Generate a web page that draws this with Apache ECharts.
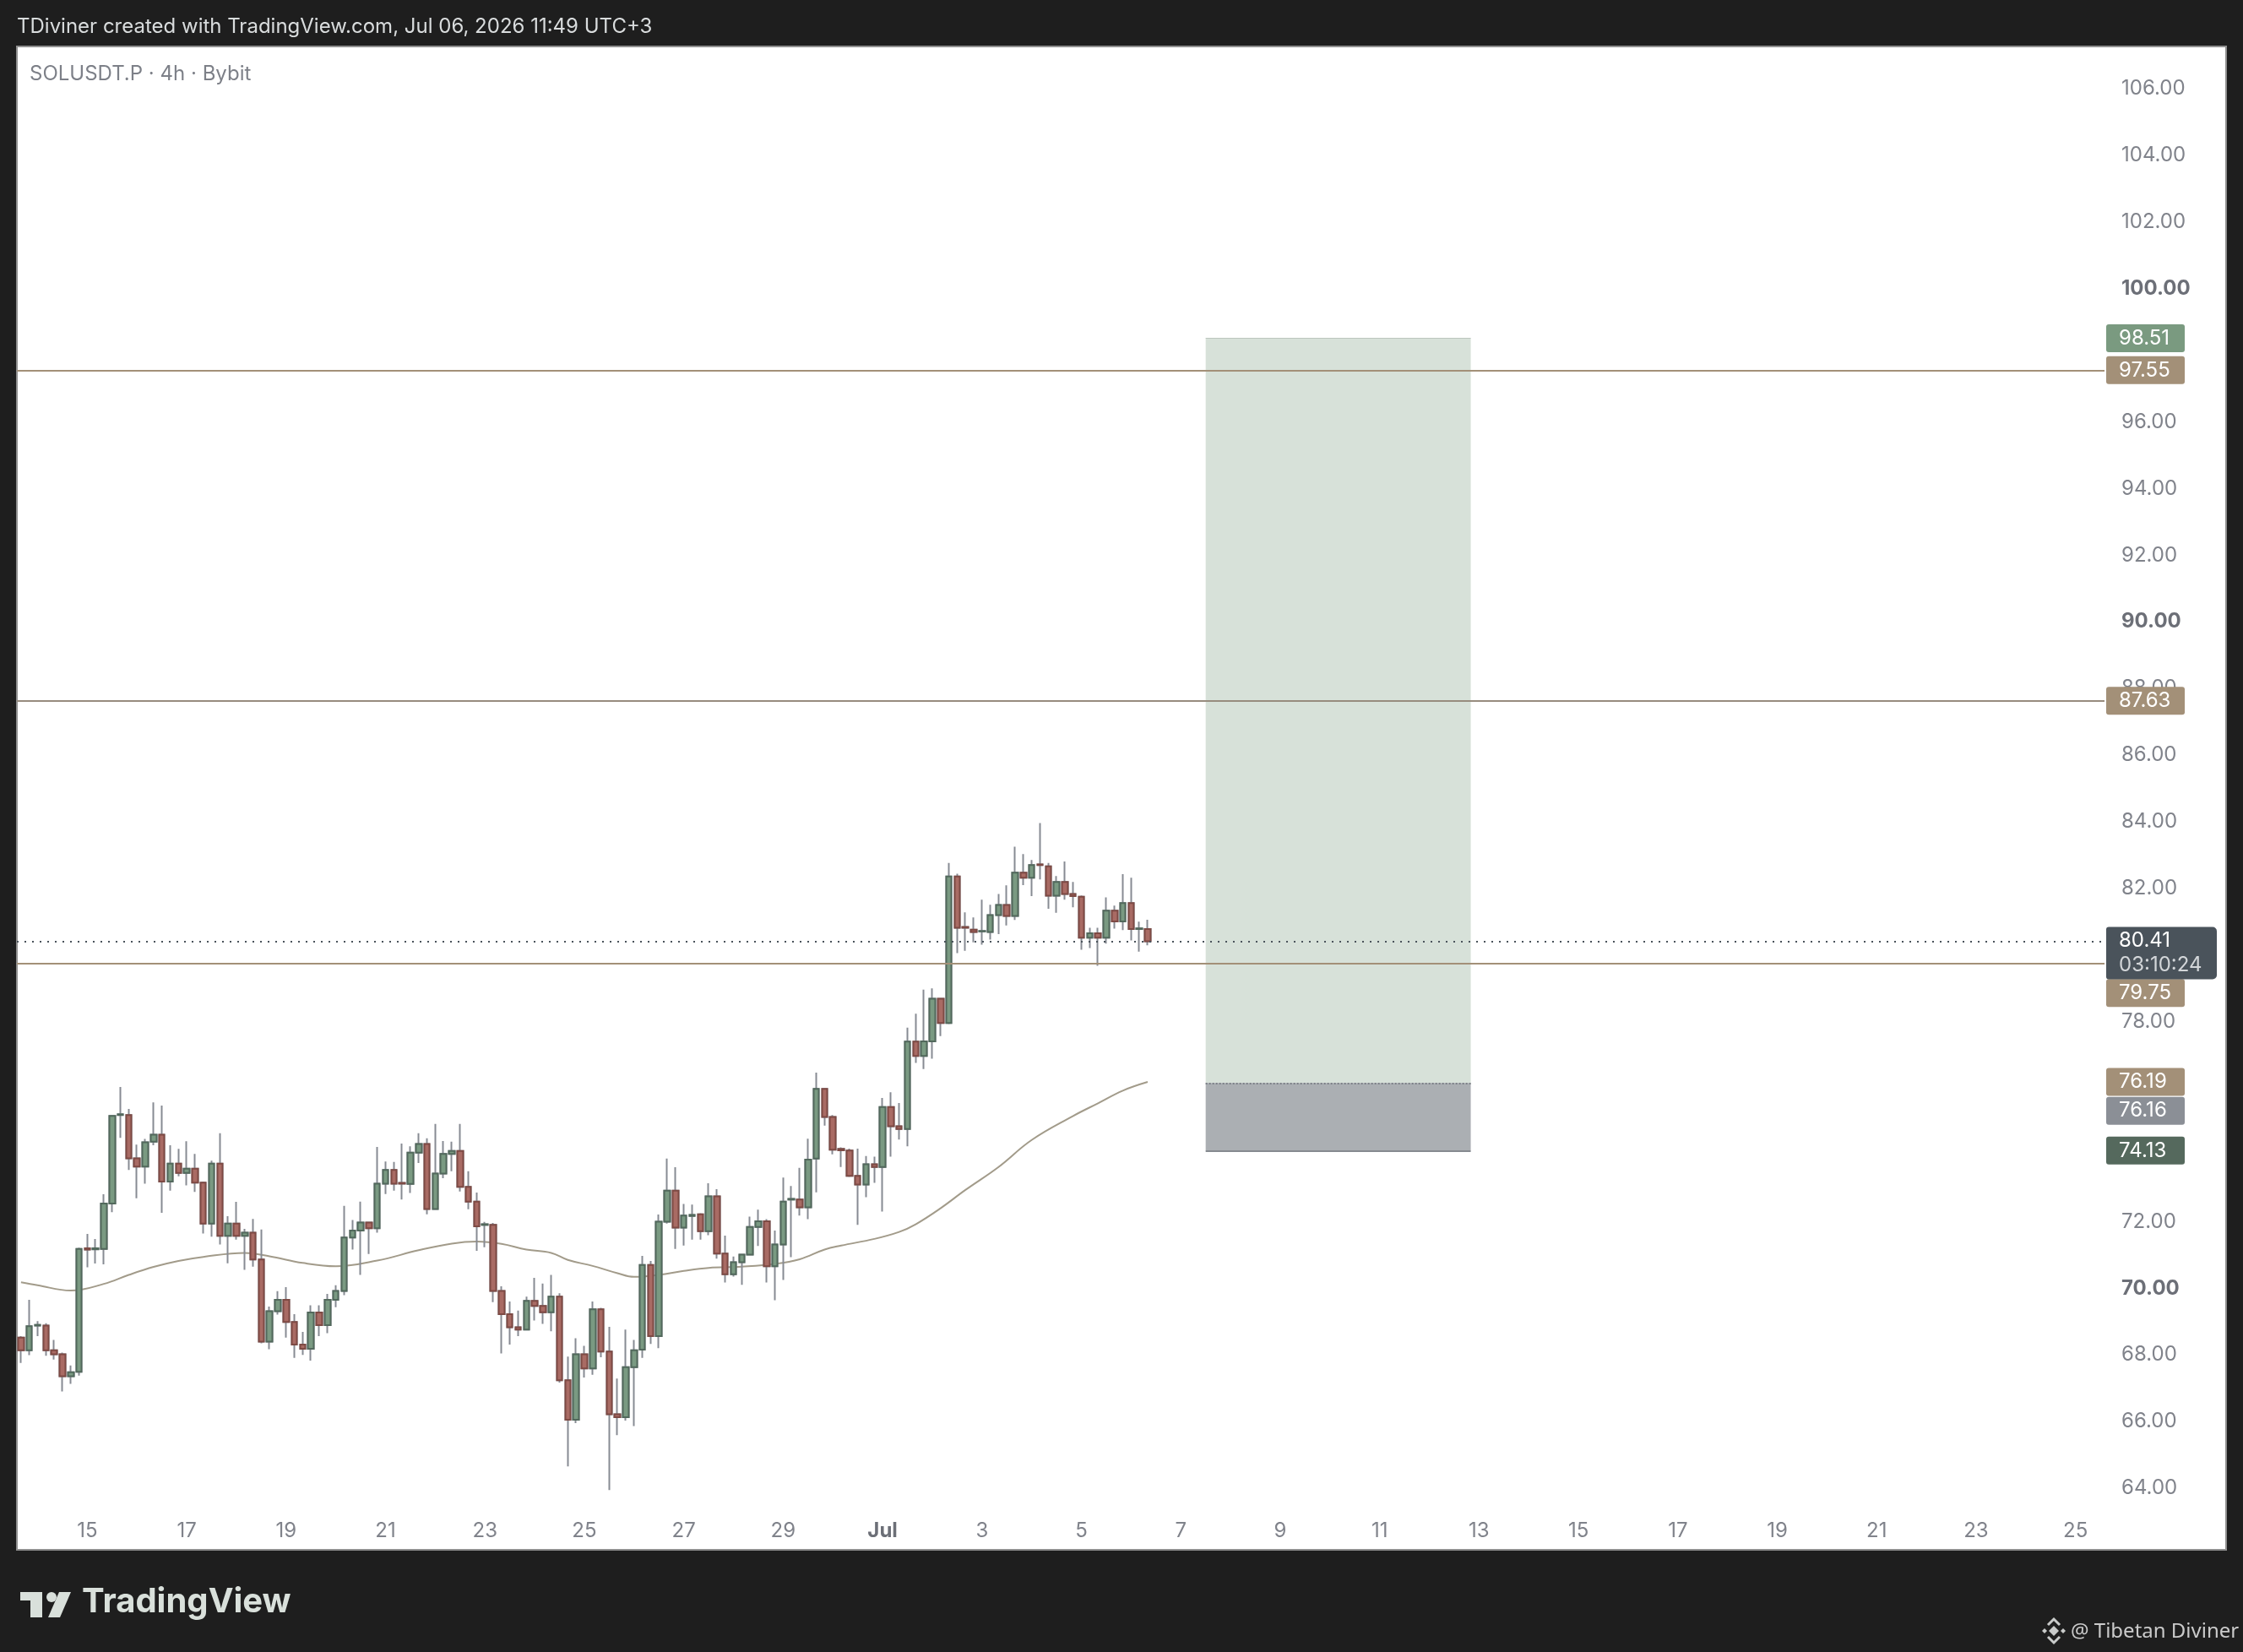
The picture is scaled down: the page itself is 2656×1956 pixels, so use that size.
<!DOCTYPE html>
<html>
<head>
<meta charset="utf-8">
<style>
  html, body { margin: 0; padding: 0; background: #1e1e1e; }
  #root { width: 2656px; height: 1956px; }
</style>
<script src="https://cdn.jsdelivr.net/npm/echarts@6/dist/echarts.min.js"></script>
</head>
<body>
<div id="root"></div>
<script>
// SOLUSDT.P 4h candles (first bar Jun 13 16:00)
const opens = [68.52,68.14,68.88,68.88,68.14,68.02,67.36,67.49,71.20,71.17,
  71.18,72.54,75.20,75.20,73.90,73.65,74.40,74.61,73.20,73.74,
  73.46,73.59,73.17,71.94,73.74,71.57,71.94,71.57,71.67,70.86,
  68.40,69.31,69.65,68.99,68.31,68.18,69.27,68.89,69.65,69.92,
  71.52,71.73,71.97,71.80,73.14,73.55,73.16,73.13,74.07,74.33,
  72.38,73.44,74.03,74.12,73.04,72.60,71.90,71.90,69.92,69.22,
  68.83,68.76,69.62,69.47,69.28,69.75,67.24,66.05,68.02,67.59,
  69.37,68.10,66.22,66.13,67.63,68.16,70.70,68.56,72.00,72.93,
  71.82,72.17,72.22,71.71,72.76,71.04,70.42,70.78,71.01,71.84,
  72.01,70.66,71.31,72.66,72.66,72.43,73.89,75.98,75.14,74.18,
  74.13,73.37,73.11,73.72,73.64,75.44,74.86,74.78,77.40,76.97,
  77.41,78.69,77.96,82.36,80.84,80.76,80.71,80.69,81.20,81.50,
  81.17,82.47,82.32,82.72,82.66,81.78,82.19,81.83,81.75,80.52,
  80.65,80.52,81.33,81.01,81.56,80.78,80.78];

const closes = [68.14,68.86,68.90,68.14,68.02,67.36,67.48,71.18,71.16,71.20,
  72.54,75.17,75.22,73.90,73.65,74.38,74.61,73.20,73.74,73.46,
  73.59,73.17,71.94,73.74,71.57,71.94,71.57,71.67,70.86,68.40,
  69.31,69.65,68.99,68.31,68.18,69.27,68.89,69.65,69.92,71.52,
  71.73,71.97,71.80,73.14,73.55,73.14,73.14,74.07,74.33,72.38,
  73.44,74.03,74.12,73.04,72.60,71.86,71.92,69.92,69.22,68.83,
  68.76,69.62,69.47,69.28,69.75,67.24,66.05,68.02,67.59,69.37,
  68.10,66.22,66.13,67.63,68.14,70.70,68.56,72.00,72.93,71.82,
  72.18,72.20,71.71,72.76,71.04,70.42,70.78,71.01,71.84,72.01,
  70.66,71.31,72.60,72.68,72.43,73.86,75.98,75.14,74.16,74.14,
  73.37,73.11,73.72,73.64,75.44,74.86,74.78,77.40,76.97,77.41,
  78.69,77.96,82.36,80.82,80.82,80.69,80.72,81.20,81.50,81.17,
  82.47,82.32,82.70,82.70,81.78,82.19,81.83,81.77,80.52,80.65,
  80.52,81.33,81.01,81.56,80.78,80.80,80.41];

const lows = [67.76,67.99,68.56,67.97,67.86,66.90,67.13,67.38,70.63,70.74,
  70.72,72.28,74.51,73.55,72.70,73.14,74.29,72.26,72.93,73.36,
  73.09,72.89,71.64,71.55,71.31,70.75,71.46,70.55,70.65,68.35,
  68.17,69.21,68.52,67.91,68.00,67.83,68.56,68.65,69.43,69.79,
  71.16,70.40,71.03,71.67,72.83,72.93,72.66,72.86,73.76,72.22,
  72.38,73.30,73.51,72.90,72.37,71.12,71.23,69.58,68.04,68.31,
  68.56,68.76,69.03,68.93,68.71,67.17,64.65,65.95,67.32,67.40,
  67.93,63.94,65.59,66.03,65.86,67.91,68.33,68.20,71.94,71.18,
  71.28,71.46,71.46,71.59,70.89,70.17,70.35,70.10,70.99,71.27,
  70.17,69.64,70.25,70.93,72.18,72.07,72.88,74.88,74.02,73.64,
  73.34,71.90,72.73,73.16,72.30,73.95,74.46,74.26,76.76,76.58,
  76.89,77.57,77.93,80.06,80.13,80.38,80.31,80.46,80.63,80.89,
  81.05,82.10,81.77,82.27,81.39,81.27,81.66,81.43,80.16,80.21,
  79.68,80.34,80.79,80.75,80.44,80.10,80.29];

const highs = [68.56,69.65,69.01,68.95,68.45,68.07,67.68,71.22,71.63,71.48,
  72.82,75.20,76.04,75.38,74.31,74.48,75.58,75.48,74.29,74.18,
  74.41,74.03,73.20,73.83,74.65,72.16,72.59,71.78,72.08,71.76,
  69.45,69.91,70.03,69.22,68.69,69.49,69.49,69.83,70.09,72.47,
  72.05,72.60,72.00,74.24,73.80,73.79,74.34,74.26,74.65,74.50,
  74.93,74.42,74.40,74.93,73.51,72.87,71.99,71.96,70.06,69.60,
  69.33,69.75,70.31,70.14,70.40,69.85,67.95,68.50,68.27,69.60,
  69.41,68.84,67.29,68.76,68.45,70.97,70.82,72.21,73.89,73.63,
  72.53,72.51,72.25,73.15,72.97,71.58,70.95,71.01,72.15,72.36,
  72.07,71.73,73.32,73.07,73.61,74.49,76.47,76.00,75.20,74.23,
  74.19,74.19,73.97,73.95,75.71,75.88,75.56,77.82,78.24,78.96,
  79.00,78.70,82.76,82.44,81.28,81.13,81.66,81.51,81.83,82.09,
  83.25,83.03,82.85,83.96,82.76,82.37,82.81,82.19,81.79,80.82,
  80.82,81.73,81.48,82.43,82.32,81.00,81.06];

// moving average (bar index, value)
const maIndex = [0,2,6,10,13,16,19,22,27,30,34,38,43,48,52,55,58,61,64,66,
  69,72,74,77,80,83,87,91,94,97,99,103,106,108,111,114,118,122,127,130,133,136];
const maValues = [70.18,70.09,69.93,70.13,70.40,70.64,70.82,70.94,71.06,70.96,
  70.76,70.66,70.83,71.14,71.34,71.40,71.33,71.16,71.06,70.85,
  70.67,70.45,70.34,70.40,70.52,70.61,70.65,70.73,70.87,71.16,
  71.28,71.48,71.69,71.92,72.40,72.95,73.64,74.45,75.17,75.55,75.93,76.19];

// time axis ticks: one label every 2 days (12 bars), first on bar 8
const xTickLabels = ['15','17','19','21','23','25','27','29','Jul','3','5','7','9','11','13','15','17','19','21','23','25'];
const firstTick = 8;
const tickStep = 12;
const totalBars = 252;

// levels
const resistance = [97.55, 87.63];
const support = 79.75;
const lastPrice = 80.41;
const countdown = '03:10:24';
const maLast = 76.19;
const target = 98.51, entry = 76.16, stop = 74.13;
const boxFrom = 143, boxTo = 175;
const hiddenTicks = [98, 80, 76, 74];

const start = Date.UTC(2026, 5, 13, 16);
const categories = [];
for (let i = 0; i < totalBars; i++) {
  categories.push(new Date(start + i * 4 * 3600 * 1000).toISOString().slice(0, 16).replace('T', ' '));
}

const candleRows = opens.map((o, i) => [o, closes[i], lows[i], highs[i]]);
const bodyRows = opens.map((o, i) => [o, closes[i], Math.min(o, closes[i]), Math.max(o, closes[i])]);
const maPoints = maIndex.map((x, i) => [x, maValues[i]]);

const FONT = 'Inter';
const TAN = '#a39078';

function tag(text, bg, dy) {
  return {
    show: true, position: 'end', distance: 2,
    formatter: text,
    backgroundColor: bg, color: '#ffffff',
    fontFamily: FONT, fontSize: 24,
    width: 68, padding: [5, 10, 4, 15], borderRadius: 3,
    offset: [0, dy || 0]
  };
}
const hidden = { color: 'rgba(0,0,0,0)', width: 0 };

let myChart = echarts.init(document.getElementById('root'));

let option = {
  backgroundColor: '#1e1e1e',
  animation: false,
  grid: { left: 20, top: 105, width: 2472, height: 1657, outerBoundsMode: 'none' },
  xAxis: {
    type: 'category',
    data: categories,
    boundaryGap: true,
    axisLine: { show: false },
    axisTick: { show: false },
    splitLine: { show: false },
    axisLabel: {
      margin: 39,
      color: '#80838b',
      fontFamily: FONT,
      fontSize: 24,
      interval: (index) => index >= firstTick && (index - firstTick) % tickStep === 0
        && (index - firstTick) / tickStep < xTickLabels.length,
      formatter: (value, index) => {
        const t = xTickLabels[(index - firstTick) / tickStep];
        return t === 'Jul' ? '{b|Jul}' : t;
      },
      rich: { b: { fontWeight: 'bold', color: '#6c6f77', fontFamily: FONT, fontSize: 24 } }
    }
  },
  yAxis: {
    type: 'value',
    position: 'right',
    min: 64,
    max: 106,
    interval: 2,
    axisLine: { show: false },
    axisTick: { show: false },
    splitLine: { show: false },
    axisLabel: {
      margin: 20,
      color: '#80838b',
      fontFamily: FONT,
      fontSize: 24,
      formatter: (v) => {
        if (hiddenTicks.includes(v)) return '';
        return v % 10 === 0 ? '{b|' + v.toFixed(2) + '}' : v.toFixed(2);
      },
      rich: { b: { fontWeight: 'bold', color: '#6c6f77', fontFamily: FONT, fontSize: 24 } }
    }
  },
  series: [
    {
      name: 'MA',
      type: 'line',
      data: maPoints,
      smooth: 0.4,
      showSymbol: false,
      z: 1,
      lineStyle: { color: '#a29b8a', width: 2 }
    },
    {
      // wicks
      name: 'wicks',
      type: 'candlestick',
      data: candleRows,
      barWidth: 7,
      clip: false,
      z: 2,
      itemStyle: {
        color: '#878b93', color0: '#878b93',
        borderColor: '#878b93', borderColor0: '#878b93', borderWidth: 2
      },
      markArea: {
        silent: true,
        data: [
          [{ coord: [boxFrom, target], itemStyle: { color: '#d7e1d9' } }, { coord: [boxTo, entry] }],
          [{ coord: [boxFrom, entry], itemStyle: { color: '#abafb3' } }, { coord: [boxTo, stop] }]
        ]
      }
    },
    {
      // bodies
      name: 'SOLUSDT.P',
      type: 'candlestick',
      data: bodyRows,
      barWidth: 7,
      clip: false,
      z: 3,
      itemStyle: {
        color: '#7a9a82', color0: '#a96b64',
        borderColor: '#52695c', borderColor0: '#7e4a44', borderWidth: 2
      },
      markLine: {
        silent: true,
        symbol: ['none', 'none'],
        data: [
          { yAxis: resistance[0], lineStyle: { color: TAN, width: 2, type: 'solid' }, label: tag('97.55', TAN) },
          { yAxis: resistance[1], lineStyle: { color: '#978c7e', width: 2, type: 'solid' }, label: tag('87.63', TAN) },
          { yAxis: support, lineStyle: { color: TAN, width: 2, type: 'solid' }, label: tag('79.75', TAN, 35) },
          {
            yAxis: lastPrice,
            lineStyle: { color: '#4a535b', width: 2, type: [2, 7] },
            label: {
              show: true, position: 'end', distance: 2,
              formatter: '{p|80.41}\n{t|' + countdown + '}',
              backgroundColor: '#4a535b',
              width: 106, padding: [2, 10, 2, 15], borderRadius: [3, 5, 5, 3],
              offset: [0, 14],
              rich: {
                p: { color: '#ffffff', fontFamily: FONT, fontSize: 24, lineHeight: 29 },
                t: { color: '#d3d6d9', fontFamily: FONT, fontSize: 24, lineHeight: 29 }
              }
            }
          },
          { yAxis: target, lineStyle: hidden, label: tag('98.51', '#7a9a80') },
          { yAxis: maLast, lineStyle: hidden, label: tag('76.19', TAN) },
          { yAxis: entry, lineStyle: hidden, label: tag('76.16', '#8b8f96', 33) },
          { yAxis: stop, lineStyle: hidden, label: tag('74.13', '#55695d') },
          [{ coord: [boxFrom, target], lineStyle: { color: '#bcc6be', width: 1, type: 'solid' }, label: { show: false } },
           { coord: [boxTo, target] }],
          [{ coord: [boxFrom, entry], lineStyle: { color: '#7b8087', width: 2, type: [2, 2] }, label: { show: false } },
           { coord: [boxTo, entry] }],
          [{ coord: [boxFrom, stop], lineStyle: { color: '#868a90', width: 2, type: 'solid' }, label: { show: false } },
           { coord: [boxTo, stop] }]
        ]
      }
    }
  ],
  graphic: [
    { type: 'rect', z: -10, shape: { x: 20, y: 55, width: 2616, height: 1780 },
      style: { fill: '#ffffff', stroke: '#8f8f8f', lineWidth: 2 } },
    { type: 'text', left: 20, top: 20,
      style: { text: 'TDiviner created with TradingView.com, Jul 06, 2026 11:49 UTC+3',
        fill: '#d9dcdd', font: '24px Inter' } },
    { type: 'text', left: 35, top: 76,
      style: { text: 'SOLUSDT.P · 4h · Bybit', fill: '#7d8088', font: '24px Inter' } },
    // TradingView logo
    { type: 'polygon', shape: { points: [[24, 1885], [50, 1885], [50, 1915], [36, 1915], [36, 1895], [24, 1895]] },
      style: { fill: '#d9e0db' } },
    { type: 'circle', shape: { cx: 61, cy: 1891, r: 6 }, style: { fill: '#d9e0db' } },
    { type: 'polygon', shape: { points: [[70, 1885], [84, 1885], [71, 1915], [57, 1915]] },
      style: { fill: '#d9e0db' } },
    { type: 'text', left: 97, top: 1877,
      style: { text: 'TradingView', fill: '#d9e0db', font: 'bold 40px Inter' } },
    // signature
    { type: 'polygon', shape: { points: [[2432, 1925], [2438, 1931], [2432, 1937], [2426, 1931]] }, style: { fill: '#c9cbca' } },
    { type: 'polygon', shape: { points: [[2421, 1928], [2424, 1931], [2421, 1934], [2418, 1931]] }, style: { fill: '#c9cbca' } },
    { type: 'polygon', shape: { points: [[2443, 1928], [2446, 1931], [2443, 1934], [2440, 1931]] }, style: { fill: '#c9cbca' } },
    { type: 'polyline', shape: { points: [[2425, 1924], [2432, 1917], [2439, 1924]] }, style: { stroke: '#c9cbca', lineWidth: 3 } },
    { type: 'polyline', shape: { points: [[2425, 1938], [2432, 1945], [2439, 1938]] }, style: { stroke: '#c9cbca', lineWidth: 3 } },
    { type: 'text', left: 2452, top: 1920,
      style: { text: '@ Tibetan Diviner', fill: '#cacaca', font: '24px "Noto Sans"' } }
  ]
};

myChart.setOption(option);
</script>
</body>
</html>
